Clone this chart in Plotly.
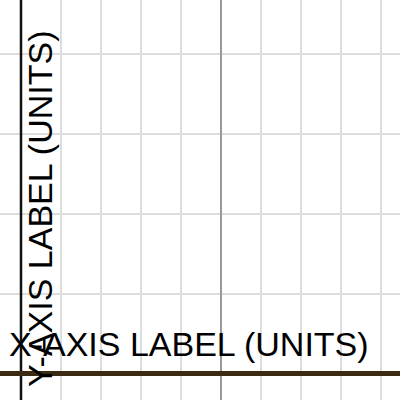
import plotly.graph_objects as go

# axis lines drawn on top of the grid
v_line_x = [-5, -5]
v_line_y = [-1, 10]
h_line_x = [-6, 5]
h_line_y = [0, 0]

x_label = "X-AXIS LABEL (UNITS)"
y_label = "Y-AXIS LABEL (UNITS)"

fig = go.Figure()

fig.add_trace(go.Scatter(x=v_line_x, y=v_line_y, mode="lines",
                         line=dict(color="#111111", width=2.5), hoverinfo="skip"))
fig.add_trace(go.Scatter(x=h_line_x, y=h_line_y, mode="lines",
                         line=dict(color="#3d2a12", width=5), hoverinfo="skip"))

fig.add_annotation(text=x_label, xref="paper", yref="paper",
                   x=189 / 400, y=1 - 344 / 400, xanchor="center", yanchor="middle",
                   showarrow=False, font=dict(family="Liberation Sans", size=34, color="black"))
fig.add_annotation(text=y_label, xref="paper", yref="paper", textangle=-90,
                   x=40 / 400, y=1 - 209 / 400, xanchor="center", yanchor="middle",
                   showarrow=False, font=dict(family="Liberation Sans", size=34, color="black"))

fig.update_xaxes(range=[-5.525, 4.475], dtick=1, showgrid=True, gridcolor="#dddddd",
                 gridwidth=1.5, zeroline=True, zerolinecolor="#999999", zerolinewidth=2,
                 showticklabels=False, ticks="")
fig.update_yaxes(range=[-0.6625, 9.3375], dtick=2, showgrid=True, gridcolor="#dddddd",
                 gridwidth=1.5, zeroline=False, showticklabels=False, ticks="")

fig.update_layout(width=400, height=400, margin=dict(l=0, r=0, t=0, b=0),
                  plot_bgcolor="white", paper_bgcolor="white", showlegend=False)

# remove the default page margin so the figure sits at the window's corner
fig.write_html("out.html", config={"displayModeBar": False},
               post_script="document.body.style.margin='0';")
